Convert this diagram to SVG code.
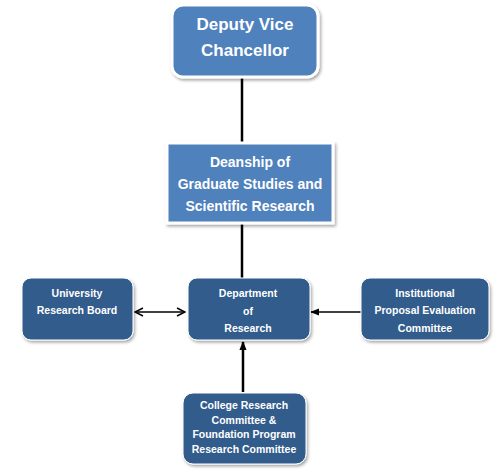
<svg xmlns="http://www.w3.org/2000/svg" width="498" height="472" viewBox="0 0 498 472">
<defs>
<filter id="sh" x="-10%" y="-10%" width="130%" height="130%">
<feDropShadow dx="1.5" dy="2" stdDeviation="1.5" flood-color="#000" flood-opacity="0.35"/>
</filter>
<marker id="open" viewBox="0 0 10 10" refX="9" refY="5" markerWidth="10" markerHeight="10" markerUnits="userSpaceOnUse" orient="auto-start-reverse">
<path d="M1,1 L9,5 L1,9" fill="none" stroke="#000" stroke-width="1.5"/>
</marker>
<marker id="fill" viewBox="0 0 10 10" refX="9" refY="5" markerWidth="9" markerHeight="9" markerUnits="userSpaceOnUse" orient="auto">
<path d="M0,1 L10,5 L0,9 Z" fill="#000"/>
</marker>
</defs>
<style>
.lt{fill:#4f81bd;stroke:#fff;stroke-width:3;filter:url(#sh)}
.dk{fill:#335b8c;stroke:#fff;stroke-width:1;filter:url(#sh)}
text{font-family:"Liberation Sans",Arial,sans-serif;font-weight:bold;fill:#fff;text-anchor:middle}
.t1{font-size:17px}
.t2{font-size:14px}
.t3{font-size:10.5px}
.c{stroke:#000;stroke-width:2.5;fill:none}
.c2{stroke:#000;stroke-width:1.5;fill:none}
</style>
<g id="connectors">
<line class="c" x1="242" y1="77" x2="242" y2="143"/>
<line class="c" x1="242" y1="223" x2="242" y2="278"/>
<line class="c2" x1="135" y1="312" x2="185" y2="312" marker-start="url(#open)" marker-end="url(#open)"/>
<line class="c2" x1="361" y1="312" x2="311" y2="312" marker-end="url(#fill)"/>
<line class="c" x1="243" y1="392" x2="243" y2="342" marker-end="url(#fill)"/>
</g>
<g id="deputy">
<rect class="lt" x="172" y="5" width="146" height="72" rx="11"/>
<text class="t1" x="245" y="30">Deputy Vice</text>
<text class="t1" x="245" y="56">Chancellor</text>
</g>
<g id="deanship">
<rect class="lt" x="167" y="143" width="166" height="80"/>
<text class="t2" x="250" y="167">Deanship of</text>
<text class="t2" x="250" y="189">Graduate Studies and</text>
<text class="t2" x="250" y="211">Scientific Research</text>
</g>
<g id="department">
<rect class="dk" x="188" y="278" width="122" height="62" rx="9"/>
<text class="t3" x="248" y="297">Department</text>
<text class="t3" x="248" y="315">of</text>
<text class="t3" x="248" y="332">Research</text>
</g>
<g id="university">
<rect class="dk" x="22" y="278" width="111" height="62" rx="9"/>
<text class="t3" x="77" y="297">University</text>
<text class="t3" x="77" y="314">Research Board</text>
</g>
<g id="institutional">
<rect class="dk" x="361" y="278" width="128" height="62" rx="9"/>
<text class="t3" x="425" y="297">Institutional</text>
<text class="t3" x="425" y="314">Proposal Evaluation</text>
<text class="t3" x="425" y="332">Committee</text>
</g>
<g id="college">
<rect class="dk" x="183" y="393" width="123" height="71" rx="10"/>
<text class="t3" x="244" y="409">College Research</text>
<text class="t3" x="244" y="424">Committee &amp;</text>
<text class="t3" x="244" y="438">Foundation Program</text>
<text class="t3" x="244" y="453">Research Committee</text>
</g>
</svg>
